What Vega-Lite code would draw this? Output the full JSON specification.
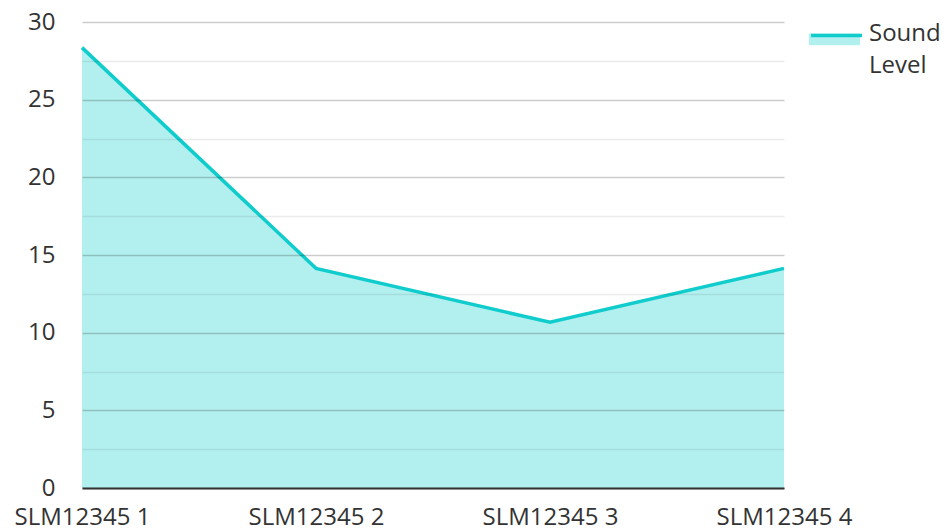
{
  "$schema": "https://vega.github.io/schema/vega-lite/v6.json",
  "width": 702,
  "height": 466,
  "autosize": "none",
  "padding": {"left": 82, "top": 22, "right": 160, "bottom": 41},
  "background": "white",
  "config": {
    "font": "Open Sans",
    "view": {"stroke": null},
    "style": {"guide-label": {"lineHeight": 32}}
  },
  "data": {
    "values": [
      {"sensor": "SLM12345 1", "level": 28.35},
      {"sensor": "SLM12345 2", "level": 14.14},
      {"sensor": "SLM12345 3", "level": 10.67},
      {"sensor": "SLM12345 4", "level": 14.14}
    ]
  },
  "encoding": {
    "x": {
      "field": "sensor",
      "type": "ordinal",
      "sort": null,
      "scale": {"type": "point", "padding": 0},
      "axis": {
        "title": null,
        "labelAngle": 0,
        "labelFontSize": 24,
        "labelColor": "#333333",
        "labelPadding": 17,
        "ticks": false,
        "domain": true,
        "domainColor": "#333333",
        "domainWidth": 2,
        "grid": false,
        "zindex": 2
      }
    },
    "y": {
      "field": "level",
      "type": "quantitative",
      "scale": {"domain": [0, 30], "nice": false}
    }
  },
  "layer": [
    {
      "mark": {"type": "area", "opacity": 1},
      "encoding": {
        "y": {
          "field": "level",
          "type": "quantitative",
          "axis": {
            "orient": "left",
            "values": [2.5, 7.5, 12.5, 17.5, 22.5, 27.5],
            "labels": false,
            "ticks": false,
            "domain": false,
            "title": null,
            "grid": true,
            "gridColor": "rgba(0,0,0,0.08)",
            "gridWidth": 1.5,
            "zindex": 1
          }
        },
        "fill": {
          "datum": "Sound Level",
          "scale": {"range": ["#b2f0ef"]},
          "legend": {
            "title": null,
            "orient": "none",
            "legendX": 727,
            "legendY": -14,
            "symbolType": "M-1,0H1V0.46H-1Z",
            "symbolSize": 2601,
            "symbolStrokeWidth": 0,
            "labelExpr": "['Sound', 'Level']",
            "labelFontSize": 24,
            "labelColor": "#333333",
            "labelOffset": 9,
            "labelBaseline": "middle"
          }
        }
      }
    },
    {
      "mark": {"type": "line", "strokeWidth": 3.5},
      "encoding": {
        "y": {
          "field": "level",
          "type": "quantitative",
          "axis": {
            "orient": "left",
            "values": [0, 5, 10, 15, 20, 25, 30],
            "title": null,
            "ticks": false,
            "domain": false,
            "labelFontSize": 24,
            "labelColor": "#333333",
            "labelPadding": 27,
            "grid": true,
            "gridColor": "rgba(0,0,0,0.2)",
            "gridWidth": 1.5,
            "zindex": 1
          }
        },
        "stroke": {
          "datum": "line",
          "scale": {"range": ["#10cccc"]},
          "legend": {
            "title": null,
            "orient": "none",
            "legendX": 727,
            "legendY": -14,
            "symbolType": "stroke",
            "symbolSize": 2601,
            "symbolStrokeWidth": 3.5,
            "labelOpacity": 0,
            "labelFontSize": 24,
            "labelOffset": 9
          }
        }
      }
    }
  ],
  "resolve": {"axis": {"y": "independent"}}
}
